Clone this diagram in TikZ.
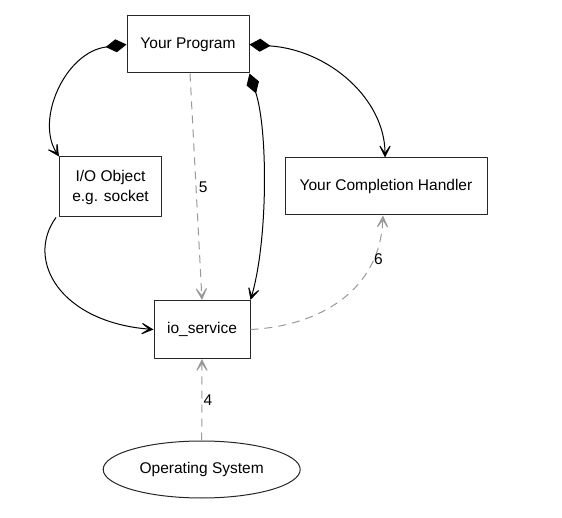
\documentclass[tikz,border=0pt]{standalone}
\usepackage{fontspec}
\setmainfont{Liberation Sans}
\usetikzlibrary{arrows.meta,shapes.geometric}
\begin{document}
\begin{tikzpicture}[
	x=1pt,
	y=-1pt,
	line join=round,
	font=\fontsize{15.5}{20}\selectfont,
	>={Stealth[length=17pt,width=17pt,inset=12pt]},
	component/.style={draw=black!85, line width=1pt, inner sep=0pt, align=center},
	owns/.style={{Diamond[length=21pt,width=13pt]}->, line width=1pt},
	uses/.style={->, line width=1pt},
	async/.style={->, gray!80, dash pattern=on 8pt off 6pt, line width=1pt},
	]
\useasboundingbox (0,0) rectangle (562,518);
\node[component, minimum width=122pt, minimum height=57pt] (prog) at (188,44.5) {Your Program};
\node[component, minimum width=102pt, minimum height=60pt] (ioobj) at (110.5,187) {I/O Object\\e.g. socket};
\node[component, minimum width=202pt, minimum height=57pt] (handler) at (386,186.5) {Your Completion Handler};
\node[component, minimum width=96pt, minimum height=58pt] (ios) at (202,329.5) {io\_service};
\node[draw=black!85, ellipse, line width=1pt, inner sep=0pt, minimum width=197pt, minimum height=57pt] (os) at (201.7,469.5) {Operating System};
% ownership
\draw[owns] (prog.west) .. controls (65,52) and (35,120) .. (ioobj.north west);
\draw[owns] (prog.east) .. controls (330,50) and (385,100) .. (handler.north -| 385,0);
\draw[owns] (prog.south east) .. controls (268,130) and (268,240) .. (ios.north east);
\draw[uses] (ioobj.south west) ++(-3,0) .. controls (25,260) and (60,322) .. (ios.west);
% asynchronous steps
\draw[async] (prog.south -| 190,0) -- node[pos=0.5, right=-1pt, black] {5} (ios.north);
\draw[async] (os.north) -- node[pos=0.5, right=-2pt, black] {4} (ios.south);
\draw[async] (ios.east) .. controls (320,326) and (380,290) .. node[pos=0.78, right=-3pt, black] {6} (handler.south -| 383,0);
\end{tikzpicture}
\end{document}
